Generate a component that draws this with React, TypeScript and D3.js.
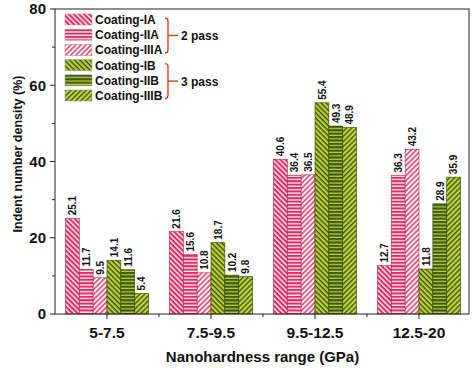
import React from 'react';
import * as d3 from 'd3';

const categories = ['5-7.5', '7.5-9.5', '9.5-12.5', '12.5-20'];
const seriesNames = ['Coating-IA', 'Coating-IIA', 'Coating-IIIA', 'Coating-IB', 'Coating-IIB', 'Coating-IIIB'];
const coatingIA = [25.1, 21.6, 40.6, 12.7];
const coatingIIA = [11.7, 15.6, 36.4, 36.3];
const coatingIIIA = [9.5, 10.8, 36.5, 43.2];
const coatingIB = [14.1, 18.7, 55.4, 11.8];
const coatingIIB = [11.6, 10.2, 49.3, 28.9];
const coatingIIIB = [5.4, 9.8, 48.9, 35.9];
const seriesValues = [coatingIA, coatingIIA, coatingIIIA, coatingIB, coatingIIB, coatingIIIB];
const yTicks = [0, 20, 40, 60, 80];
const yMinor = [10, 30, 50, 70];

const W = 474;
const H = 368;
const PLOT = { left: 55, right: 469, top: 9, bottom: 314 };
const FONT = 'Arial, "Liberation Sans", sans-serif';
const fills = ['url(#pIA)', 'url(#pIIA)', 'url(#pIIIA)', 'url(#pIB)', 'url(#pIIB)', 'url(#pIIIB)'];

function Stripes({ id, bg, fg, angle, size, thick }: { id: string; bg: string; fg: string; angle: number; size: number; thick: number }) {
  return (
    <pattern id={id} patternUnits="userSpaceOnUse" width={size} height={size} patternTransform={`rotate(${angle})`}>
      <rect width={size} height={size} fill={bg} />
      <rect width={size} height={thick} fill={fg} />
    </pattern>
  );
}

export default function App() {
  const x0 = d3.scaleBand().domain(categories).range([PLOT.left, 471]).paddingInner(0.2).paddingOuter(0.1);
  const x1 = d3.scaleBand().domain(seriesNames).range([0, x0.bandwidth()]);
  const y = d3.scaleLinear().domain([0, 80]).range([PLOT.bottom, PLOT.top]);
  const step = x0.step();

  return (
    <svg width={W} height={H} style={{ position: 'absolute', left: 0, top: 0, background: '#fff' }} fontFamily={FONT}>
      <defs>
        <Stripes id="pIA" bg="#ffffff" fg="#e8285f" angle={45} size={3.6} thick={2.2} />
        <Stripes id="pIIA" bg="#ffffff" fg="#e8285f" angle={0} size={3.4} thick={2.1} />
        <Stripes id="pIIIA" bg="#ffffff" fg="#ec4a78" angle={-45} size={3.6} thick={1.7} />
        <Stripes id="pIB" bg="#bccd3a" fg="#34500a" angle={45} size={3.6} thick={1.3} />
        <Stripes id="pIIB" bg="#c3d14a" fg="#3d5c0c" angle={0} size={3.4} thick={2.2} />
        <Stripes id="pIIIB" bg="#c3d444" fg="#46640e" angle={-45} size={3.6} thick={1.5} />
      </defs>

      {/* bars */}
      {categories.map((c, ci) => (
        <g key={c}>
          {seriesNames.map((s, si) => {
            const v = seriesValues[si][ci];
            const bx = (x0(c) ?? 0) + (x1(s) ?? 0);
            const bw = x1.bandwidth();
            return (
              <g key={s}>
                <rect x={bx} y={y(v)} width={bw} height={y(0) - y(v)} fill={fills[si]}
                  stroke={si < 3 ? '#b02040' : '#2e4208'} strokeWidth={0.6} />
                <text transform={`translate(${bx + bw / 2 + 3.8},${y(v) - 3}) rotate(-90)`}
                  fontSize={10} fontWeight="bold" fill="#111">{v.toFixed(1)}</text>
              </g>
            );
          })}
        </g>
      ))}

      {/* frame */}
      <rect x={PLOT.left} y={PLOT.top} width={PLOT.right - PLOT.left} height={PLOT.bottom - PLOT.top}
        fill="none" stroke="#222" strokeWidth={1} />

      {/* y axis */}
      {yTicks.map(t => (
        <g key={t}>
          <line x1={PLOT.left - 5} x2={PLOT.left} y1={y(t)} y2={y(t)} stroke="#222" />
          <text x={PLOT.left - 9} y={y(t) + 5.3} textAnchor="end" fontSize={15} fontWeight="bold" fill="#111">{t}</text>
        </g>
      ))}
      {yMinor.map(t => (
        <line key={t} x1={PLOT.left - 3} x2={PLOT.left} y1={y(t)} y2={y(t)} stroke="#222" />
      ))}

      {/* x axis */}
      {categories.map((c, i) => {
        const cx = (x0(c) ?? 0) + x0.bandwidth() / 2;
        return (
          <g key={c}>
            <line x1={cx} x2={cx} y1={PLOT.bottom} y2={PLOT.bottom + 5} stroke="#222" />
            {i > 0 && <line x1={cx - step / 2} x2={cx - step / 2} y1={PLOT.bottom} y2={PLOT.bottom + 3} stroke="#222" />}
            <text x={cx} y={338} textAnchor="middle" fontSize={15.5} fontWeight="bold" fill="#111">{c}</text>
          </g>
        );
      })}

      <text x={(PLOT.left + PLOT.right) / 2 + 0.5} y={362} textAnchor="middle" fontSize={15} fontWeight="bold" fill="#111">
        Nanohardness range (GPa)
      </text>
      <text transform={`translate(22,154) rotate(-90)`} textAnchor="middle" fontSize={12.5} fontWeight="bold" fill="#111">
        Indent number density (%)
      </text>

      {/* legend */}
      {seriesNames.map((s, i) => (
        <g key={s} transform={`translate(65,${14 + i * 15.2})`}>
          <rect width={27} height={11} fill={fills[i]} stroke="#999" strokeWidth={0.6} />
          <text x={30} y={10} fontSize={12} fontWeight="bold" fill="#111">{s}</text>
        </g>
      ))}
      {[0, 1].map(g => {
        const top = 18 + g * 45.6;
        const bot = top + 35;
        const mid = (top + bot) / 2;
        return (
          <g key={g} stroke="#d2461e" strokeWidth={1.4} fill="none">
            <path d={`M165,${top} Q168,${top} 168,${top + 3} L168,${bot - 3} Q168,${bot} 165,${bot}`} />
            <line x1={168} x2={178} y1={mid} y2={mid} />
            <text x={181} y={mid + 4.5} stroke="none" fill="#111" fontSize={12} fontWeight="bold">
              {g === 0 ? '2 pass' : '3 pass'}
            </text>
          </g>
        );
      })}
    </svg>
  );
}
